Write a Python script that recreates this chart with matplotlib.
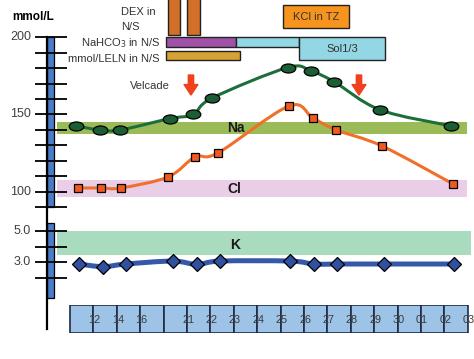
import matplotlib
matplotlib.use("Agg")
import matplotlib.pyplot as plt
import numpy as np
from matplotlib.path import Path
from matplotlib.patches import PathPatch, Rectangle
from matplotlib.lines import Line2D

plt.rcParams['font.family'] = ['Liberation Sans', 'DejaVu Sans']

# ---- data (x in day slots of the date strip) ----
day_labels = ["12", "14", "16", "", "21", "22", "23", "24", "25", "26",
              "27", "28", "29", "30", "01", "02", "03"]

na_x = [0.27, 1.28, 2.14, 4.27, 5.26, 6.07, 9.3, 10.3, 11.3, 13.25, 16.3]
na = [142.6, 140, 140, 147.4, 150, 160.6, 180.3, 178, 171, 153, 142.6]

cl_x = [0.34, 1.32, 2.18, 4.19, 5.34, 6.32, 9.36, 10.38, 11.37, 13.33, 16.37]
cl = [102.6, 102.6, 102.6, 109.7, 122.6, 125.2, 155.5, 147.7, 140, 129.7, 105.2]

k_x = [0.38, 1.41, 2.39, 4.40, 5.43, 6.41, 9.40, 10.43, 11.41, 13.42, 16.41]
k = [2.87, 2.7, 2.87, 3.06, 2.84, 3.06, 3.06, 2.87, 2.87, 2.87, 2.87]

na_range = (137.4, 145.2)
cl_range = (96.8, 107.7)
k_range = (3.45, 5.0)

nc_ticks = [90, 100, 110, 120, 130, 140, 150, 160, 170, 180, 190, 200]
nc_ticklabels = {200: "200", 150: "150", 100: "100"}
k_ticks = [2, 3, 4, 5]
k_ticklabels = {5: "5.0", 3: "3.0"}

velcade_days = [5.17, 12.35]
dex_days = [4.45, 5.28]
nahco3_span = (4.10, 7.10)
sol_thin_span = (7.10, 9.79)
sol13_span = (9.79, 13.46)
eln_span = (4.10, 7.26)
kcl_span = (9.10, 11.92)

# ---- layout helpers ----
W, H = 474, 359
X0, SLOT = 70, 23.4
XLIM = (-X0 / SLOT, (W - X0) / SLOT)


def fx(px):
    return px / W


def fy(py):
    return 1 - py / H


def sx(px):
    return (px - X0) / SLOT


def nc_val(py):
    return 100 + (192 - py) / 1.55


def k_val(py):
    return 3 + (262 - py) / 15.5


def add_ax(top, bottom):
    a = fig.add_axes([0, fy(bottom), 1, (bottom - top) / H])
    a.set_xlim(*XLIM)
    a.axis('off')
    a.patch.set_alpha(0)
    return a


def smooth_path(xs, ys, t=1 / 6):
    # Excel-style smoothed line: cubic Bezier segments through the points
    pts = np.column_stack([xs, ys])
    n = len(pts)
    verts = [pts[0]]
    codes = [Path.MOVETO]
    for i in range(n - 1):
        p0 = pts[i - 1] if i > 0 else pts[i]
        p1, p2 = pts[i], pts[i + 1]
        p3 = pts[i + 2] if i + 2 < n else pts[i + 1]
        verts += [p1 + (p2 - p0) * t, p2 - (p3 - p1) * t, p2]
        codes += [Path.CURVE4] * 3
    return Path(verts, codes)


fig = plt.figure(figsize=(W / 100, H / 100), dpi=100)
fig.patch.set_facecolor('white')

ax_nc = add_ax(0, 215)
ax_nc.set_ylim(nc_val(215), nc_val(0))
ax_k = add_ax(215, 300)
ax_k.set_ylim(k_val(300), k_val(215))
ax_days = add_ax(305, 333)
ax_days.set_ylim(0, 1)
ax_tx = add_ax(0, 62)
ax_tx.set_ylim(62, 0)

band_x0, band_x1 = sx(57), sx(467)

# reference bands
ax_nc.add_patch(Rectangle((band_x0, na_range[0]), band_x1 - band_x0,
                          na_range[1] - na_range[0], color='#9BBB59', lw=0, zorder=1))
ax_nc.add_patch(Rectangle((band_x0, cl_range[0]), band_x1 - band_x0,
                          cl_range[1] - cl_range[0], color='#EACDE6', lw=0, zorder=1))
ax_k.add_patch(Rectangle((band_x0, k_range[0]), sx(471) - band_x0,
                         k_range[1] - k_range[0], color='#A9DBBE', lw=0, zorder=1))

ax_nc.text(sx(227), na_range[0] + 3.8, "Na", fontsize=10, fontweight='bold',
           color='#1a1a1a', va='center', zorder=2)
ax_nc.text(sx(227), sum(cl_range) / 2, "Cl", fontsize=10, fontweight='bold',
           color='#1a1a1a', va='center', zorder=2)
ax_k.text(sx(230), k_val(245), "K", fontsize=10, fontweight='bold',
          color='#1a1a1a', va='center', zorder=2)

# y axis bars and ticks
bar_x, bar_w = sx(47.5), (54.5 - 47.5) / SLOT
ax_nc.add_patch(Rectangle((bar_x, 90), bar_w, 110, facecolor='#4A7CC8',
                          edgecolor='k', lw=0.9, zorder=3))
ax_nc.hlines(nc_ticks, sx(35), sx(67), color='k', lw=1.3, zorder=4)
for v, lab in nc_ticklabels.items():
    ax_nc.text(sx(31), v, lab, ha='right', va='center', fontsize=9, color='#404040')

ax_k.add_patch(Rectangle((bar_x, 0.7), bar_w, k_val(223) - 0.7, facecolor='#4A7CC8',
                         edgecolor='k', lw=0.9, zorder=3))
ax_k.hlines(k_ticks, sx(35), sx(67), color='k', lw=1.3, zorder=4)
for v, lab in k_ticklabels.items():
    ax_k.text(sx(31), v, lab, ha='right', va='center', fontsize=9, color='#404040')

fig.add_artist(Line2D([fx(47), fx(47)], [fy(37), fy(329)], color='k', lw=1.6))
fig.text(fx(12), fy(17), "mmol/L", fontsize=8.5, fontweight='bold', va='center')

# series
ellipse = Path(Path.unit_circle().vertices * [1, 0.62], Path.unit_circle().codes)

ax_nc.add_patch(PathPatch(smooth_path(na_x, na), fill=False, edgecolor='#1E6E3C',
                          lw=2.2, zorder=5))
ax_nc.plot(na_x, na, ls='none', marker=ellipse, ms=10.5, mfc='#1B5E34',
           mec='k', mew=0.9, zorder=6)

ax_nc.add_patch(PathPatch(smooth_path(cl_x, cl), fill=False, edgecolor='#F0702A',
                          lw=2.2, zorder=5))
ax_nc.plot(cl_x, cl, ls='none', marker='s', ms=6.2, mfc='#F05A22',
           mec='k', mew=0.9, zorder=6)

ax_k.add_patch(PathPatch(smooth_path(k_x, k), fill=False, edgecolor='#3558A8',
                         lw=3.6, zorder=5))
ax_k.plot(k_x, k, ls='none', marker='D', ms=7.5, mfc='#3050A0',
          mec='k', mew=0.9, zorder=6)

# Velcade arrows
for d in velcade_days:
    ax_nc.annotate('', xy=(d, nc_val(95)), xytext=(d, nc_val(75)),
                   arrowprops=dict(arrowstyle='simple,head_length=0.75,head_width=1.0,tail_width=0.38',
                                   color='#F0401E', shrinkA=0, shrinkB=0, mutation_scale=10))
fig.text(fx(130), fy(86), "Velcade", fontsize=8, color='#333333', va='center')

# date strip
ax_days.bar(np.arange(len(day_labels)) + 0.5, 1, width=1, bottom=0,
            color='#9DC3E6', edgecolor='#1F2A44', lw=1.2)
for i, lab in enumerate(day_labels):
    ax_days.text(i + 1 + 0.05, 0.48, lab, ha='center', va='center',
                 fontsize=7.8, color='#3a3a3a')

# treatments
ec = '#222222'
for d in dex_days:
    ax_tx.add_patch(Rectangle((d - 0.26, -2), 0.52, 37, facecolor='#D2702A',
                              edgecolor=ec, lw=1))
ax_tx.add_patch(Rectangle((nahco3_span[0], 37), nahco3_span[1] - nahco3_span[0], 10,
                          facecolor='#A052A8', edgecolor=ec, lw=1))
ax_tx.add_patch(Rectangle((sol_thin_span[0], 37), sol_thin_span[1] - sol_thin_span[0], 10,
                          facecolor='#93D6E4', edgecolor=ec, lw=1))
ax_tx.add_patch(Rectangle((sol13_span[0], 37), sol13_span[1] - sol13_span[0], 23,
                          facecolor='#93D6E4', edgecolor=ec, lw=1))
ax_tx.text(sum(sol13_span) / 2, 48.5, "Sol1/3", ha='center', va='center',
           fontsize=8, color='#333333')
ax_tx.add_patch(Rectangle((eln_span[0], 51), eln_span[1] - eln_span[0], 9,
                          facecolor='#D6A236', edgecolor=ec, lw=1))
ax_tx.add_patch(Rectangle((kcl_span[0], 5), kcl_span[1] - kcl_span[0], 23,
                          facecolor='#F7941D', edgecolor=ec, lw=1))
ax_tx.text(sum(kcl_span) / 2, 16.5, "KCl in TZ", ha='center', va='center',
           fontsize=8, color='#333333')

fig.text(fx(121), fy(12), "DEX in", fontsize=8, color='#333333', va='center')
fig.text(fx(121), fy(27), "N/S", fontsize=8, color='#333333', va='center')
fig.text(fx(160), fy(43), "NaHCO$_3$ in N/S", fontsize=8, color='#333333',
         va='center', ha='right')
fig.text(fx(160), fy(59), "mmol/LELN in N/S", fontsize=8, color='#333333',
         va='center', ha='right')

fig.savefig("out.png", dpi=100, facecolor='white')
